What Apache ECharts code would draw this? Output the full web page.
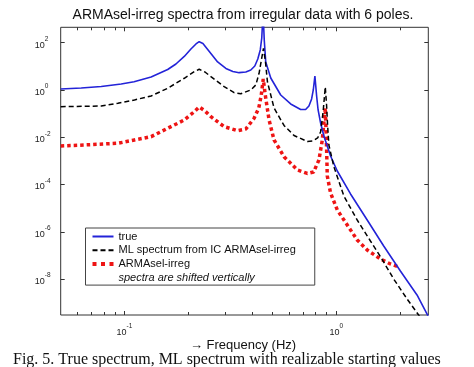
<!DOCTYPE html>
<html><head><meta charset="utf-8">
<script src="https://cdn.jsdelivr.net/npm/echarts@6/dist/echarts.min.js"></script>
<style>html,body{margin:0;padding:0;background:#fff}#c{width:474px;height:367px}</style>
</head><body><div id="c"></div>
<script>
// ---- data ----
const trueFreq = [0.05, 0.0625, 0.0777, 0.0965, 0.111, 0.1336, 0.160, 0.175, 0.1916, 0.206, 0.2176, 0.2254, 0.2347, 0.2504, 0.2753, 0.3012, 0.3249, 0.3478, 0.3741, 0.3949, 0.4125, 0.4261, 0.4377, 0.4449, 0.4512, 0.4571, 0.4646, 0.4906, 0.5467, 0.6092, 0.679, 0.7168, 0.743, 0.765, 0.779, 0.7928, 0.8078, 0.8209, 0.8435, 0.874, 0.940, 1.011, 1.168, 1.400, 1.675, 2.008, 2.406, 2.72];
const trueVal = [1.10, 1.215, 1.41, 1.79, 2.24, 3.55, 7.38, 12.6, 26.2, 54.3, 88.5, 110.7, 92.9, 44.7, 15.3, 8.13, 6.07, 5.40, 5.78, 7.02, 10.4, 20.5, 49.3, 158, 2000, 130.6, 15.3, 3.22, 0.614, 0.256, 0.1496, 0.1496, 0.21, 0.416, 1.0, 3.91, 0.557, 0.1425, 0.0401, 0.0113, 1.61e-3, 3.73e-4, 3.97e-5, 3.15e-6, 2.50e-7, 2.19e-8, 2.11e-9, 2.6e-10];

const mlFreq = [0.05, 0.0777, 0.0931, 0.1115, 0.1336, 0.160, 0.1916, 0.2136, 0.2254, 0.2399, 0.2560, 0.2956, 0.3296, 0.3543, 0.3949, 0.4171, 0.4321, 0.4449, 0.4532, 0.4622, 0.4733, 0.5084, 0.5667, 0.6317, 0.7302, 0.7735, 0.8166, 0.8435, 0.8667, 0.8875, 0.9000, 0.9099, 0.9230, 0.9743, 1.0859, 1.2556, 1.4502, 1.6167, 1.8671, 2.1597, 2.4481, 2.548];
const mlVal = [0.1965, 0.210, 0.274, 0.3775, 0.557, 1.18, 3.13, 5.95, 7.52, 5.78, 3.65, 1.38, 0.769, 0.691, 1.0, 1.63, 5.09, 22.6, 57.0, 18.6, 2.18, 0.173, 0.0315, 0.01187, 0.00662, 0.00694, 0.0093, 0.0167, 0.1172, 1.34, 0.2318, 0.033, 0.0047, 5.68e-4, 3.27e-5, 3.15e-6, 4.07e-7, 8.82e-8, 1.00e-8, 1.43e-9, 3.01e-10, 1.67e-10];

const armaFreq = [0.05, 0.0646, 0.0931, 0.1115, 0.1336, 0.160, 0.1916, 0.2129, 0.2254, 0.2399, 0.2560, 0.2956, 0.3419, 0.3741, 0.4093, 0.4307, 0.4426, 0.4522, 0.4622, 0.4817, 0.5084, 0.5667, 0.6554, 0.7302, 0.7818, 0.8284, 0.8593, 0.8762, 0.8875, 0.8981, 0.9070, 0.940, 1.011, 1.1267, 1.2556, 1.400, 1.6167, 1.8014, 1.9437];
const armaVal = [0.00427, 0.0047, 0.00555, 0.00766, 0.01056, 0.0239, 0.0538, 0.1172, 0.191, 0.1292, 0.0742, 0.028, 0.01895, 0.02237, 0.0634, 0.173, 0.614, 2.92, 0.614, 0.0538, 0.00766, 1.504e-3, 4.12e-4, 2.93e-4, 3.39e-4, 1.09e-3, 0.00766, 0.0538, 0.173, 0.00766, 2.29e-4, 4.38e-5, 8.35e-6, 1.94e-6, 4.49e-7, 1.69e-7, 7.05e-8, 4.33e-8, 3.39e-8];

const seriesNames = ['true', 'ML spectrum from IC ARMAsel-irreg', 'ARMAsel-irreg'];
const noteText = 'spectra are shifted vertically';

const xMajorTicks = [0.1, 1];
const xMinorTicks = [0.06, 0.07, 0.08, 0.09, 0.2, 0.3, 0.4, 0.5, 0.6, 0.7, 0.8, 0.9, 2];
const yMajorTicks = [1e-8, 1e-6, 1e-4, 1e-2, 1, 1e2];

const xRange = [0.05, 2.72];
const yRange = [3.0e-10, 449];

const titleText = 'ARMAsel-irreg spectra from irregular data with 6 poles.';
const xLabelText = '\u2192 Frequency (Hz)';
const captionText = 'Fig. 5. True spectrum, ML spectrum with realizable starting values';

// ---- chart ----
const SANS = '"Liberation Sans", Arial, sans-serif';
const lg = v => Math.log10(v);
const pairs = (xs, ys) => xs.map((x, i) => [x, ys[i]]);
const expLabel = v => '{b|10}{s|' + Math.round(v) + '}';
const richLab = {
  b: {fontSize: 9, fontFamily: SANS, color: '#222', lineHeight: 14, verticalAlign: 'bottom'},
  s: {fontSize: 6.5, fontFamily: SANS, color: '#222', lineHeight: 8, verticalAlign: 'top'}
};
const tickColor = '#333';

function decoX(pos, values, len, withLabels) {
  return {
    type: 'value', gridIndex: 0, position: pos,
    min: lg(xRange[0]), max: lg(xRange[1]),
    axisLine: {show: false, onZero: false}, splitLine: {show: false}, minorTick: {show: false},
    axisTick: {show: true, inside: true, length: len, customValues: values.map(lg), lineStyle: {color: tickColor, width: 1}},
    axisLabel: withLabels ? {show: true, customValues: values.map(lg), margin: 8, formatter: expLabel, rich: richLab} : {show: false}
  };
}
function decoY(pos, withLabels) {
  return {
    type: 'value', gridIndex: 0, position: pos,
    min: lg(yRange[0]), max: lg(yRange[1]),
    axisLine: {show: false, onZero: false}, splitLine: {show: false},
    axisTick: {show: true, inside: true, length: 4, customValues: yMajorTicks.map(lg), lineStyle: {color: tickColor, width: 1}},
    axisLabel: withLabels ? {show: true, customValues: yMajorTicks.map(lg), margin: 26, align: 'left', formatter: expLabel, rich: richLab} : {show: false}
  };
}

const chart = echarts.init(document.getElementById('c'), null, {renderer: 'canvas'});
chart.setOption({
  animation: false,
  backgroundColor: '#fff',
  grid: {left: 60.7, right: 45.7, top: 27.3, bottom: 52, show: true, borderColor: '#333', borderWidth: 1, backgroundColor: 'transparent', outerBoundsMode: 'none', containLabel: false},
  xAxis: [
    {type: 'log', logBase: 10, min: xRange[0], max: xRange[1], show: false, gridIndex: 0, axisLine: {onZero: false}},
    decoX('bottom', xMajorTicks, 4, true),
    decoX('bottom', xMinorTicks, 3, false),
    decoX('top', xMajorTicks, 4, false),
    decoX('top', xMinorTicks, 3, false)
  ],
  yAxis: [
    {type: 'log', logBase: 10, min: yRange[0], max: yRange[1], show: false, gridIndex: 0, axisLine: {onZero: false}},
    decoY('left', true),
    decoY('right', false)
  ],
  legend: {
    orient: 'vertical', left: 85.5, top: 228,
    itemWidth: 21, itemHeight: 10, itemGap: 2.7,
    padding: [3, 19, 2, 5],
    borderColor: '#444', borderWidth: 1, backgroundColor: '#fff',
    selectedMode: false,
    textStyle: {fontSize: 11, fontFamily: SANS, color: '#111'},
    data: [
      {name: seriesNames[0], lineStyle: {width: 2}, itemStyle: {opacity: 0}},
      {name: seriesNames[1], lineStyle: {width: 2, type: [5, 3]}, itemStyle: {opacity: 0}},
      {name: seriesNames[2], lineStyle: {width: 4, type: [4, 4.5]}, itemStyle: {opacity: 0}},
      {name: noteText, textStyle: {fontStyle: 'italic'}, lineStyle: {opacity: 0}, itemStyle: {opacity: 0}}
    ]
  },
  series: [
    {name: seriesNames[0], type: 'line', xAxisIndex: 0, yAxisIndex: 0, symbol: 'none', clip: true,
     data: pairs(trueFreq, trueVal), lineStyle: {color: '#2323d8', width: 1.6}, itemStyle: {color: '#2323d8'}, z: 3},
    {name: seriesNames[1], type: 'line', xAxisIndex: 0, yAxisIndex: 0, symbol: 'none', clip: true,
     data: pairs(mlFreq, mlVal), lineStyle: {color: '#000', width: 1.5, type: [5, 3]}, itemStyle: {color: '#000'}, z: 4},
    {name: seriesNames[2], type: 'line', xAxisIndex: 0, yAxisIndex: 0, symbol: 'none', clip: true,
     data: pairs(armaFreq, armaVal), lineStyle: {color: '#ee1414', width: 3.5, type: [3.5, 3], cap: 'butt'}, itemStyle: {color: '#ee1414'}, z: 2},
    {name: noteText, type: 'line', xAxisIndex: 0, yAxisIndex: 0, symbol: 'none', data: [],
     lineStyle: {opacity: 0}, itemStyle: {color: '#fff'}}
  ],
  graphic: [
    {type: 'text', x: 243, y: 15, silent: true,
     style: {text: titleText, font: '14px ' + SANS, fill: '#111', align: 'center', verticalAlign: 'middle'}},
    {type: 'text', x: 243, y: 345, silent: true,
     style: {text: xLabelText, font: '13px ' + SANS, fill: '#111', align: 'center', verticalAlign: 'middle'}},
    {type: 'text', x: 13, y: 360, silent: true,
     style: {text: captionText, font: '16px "Liberation Serif", "Times New Roman", serif', fill: '#111', align: 'left', verticalAlign: 'middle'}}
  ]
});
</script>
</body></html>
